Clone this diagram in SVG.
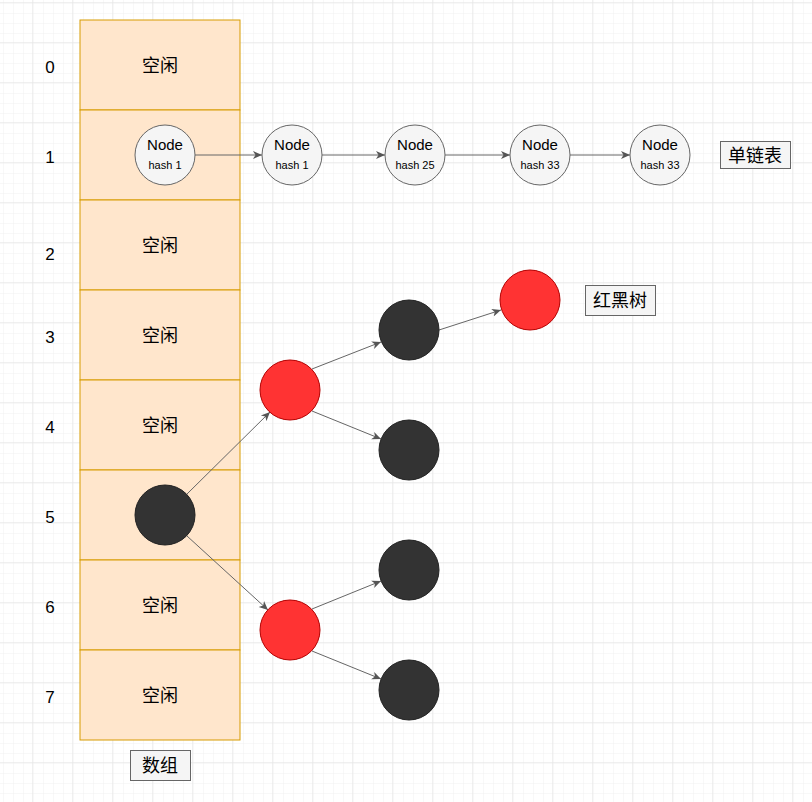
<svg xmlns="http://www.w3.org/2000/svg" width="812" height="802" viewBox="0 0 812 802">
<defs>
<pattern id="minor" width="10" height="10" patternUnits="userSpaceOnUse" x="2" y="2"><path d="M10 0V10M0 10H10" fill="none" stroke="#f0f0f0" stroke-width="1"/></pattern>
<pattern id="major" width="40" height="40" patternUnits="userSpaceOnUse" x="32" y="2"><rect width="40" height="40" fill="url(#minor)"/><path d="M0 0V40M0 0H40" fill="none" stroke="#e2e2e2" stroke-width="1"/></pattern>
<marker id="arr" markerWidth="10" markerHeight="10" refX="9" refY="5" orient="auto" markerUnits="userSpaceOnUse"><path d="M0 1L9 5L0 9L2.5 5Z" fill="#555"/></marker>
<style>
.cell{fill:#ffe6cc;stroke:#d79b00;stroke-width:1}
.t{font-family:"Liberation Sans","Noto Sans CJK SC",sans-serif;fill:#000;text-anchor:middle}
.cn{font-size:18px}
.idx{font-size:17px}
.ln{fill:#f5f5f5;stroke:#666}
.blk{fill:#333;stroke:#222}
.red{fill:#ff3333;stroke:#b20000}
.lbl{fill:#f5f5f5;stroke:#666}
.c{stroke:#666;fill:none;marker-end:url(#arr)}
</style>
</defs>
<rect width="812" height="802" fill="#fff"/>
<rect width="812" height="802" fill="url(#major)"/>
<g id="array">
<rect class="cell" x="80" y="20" width="160" height="90"/>
<rect class="cell" x="80" y="110" width="160" height="90"/>
<rect class="cell" x="80" y="200" width="160" height="90"/>
<rect class="cell" x="80" y="290" width="160" height="90"/>
<rect class="cell" x="80" y="380" width="160" height="90"/>
<rect class="cell" x="80" y="470" width="160" height="90"/>
<rect class="cell" x="80" y="560" width="160" height="90"/>
<rect class="cell" x="80" y="650" width="160" height="90"/>
<text class="t cn" x="160" y="72">空闲</text>
<text class="t cn" x="160" y="252">空闲</text>
<text class="t cn" x="160" y="342">空闲</text>
<text class="t cn" x="160" y="432">空闲</text>
<text class="t cn" x="160" y="612">空闲</text>
<text class="t cn" x="160" y="702">空闲</text>
</g>
<g id="indices">
<text class="t idx" x="50" y="73">0</text>
<text class="t idx" x="50" y="163">1</text>
<text class="t idx" x="50" y="260">2</text>
<text class="t idx" x="50" y="343">3</text>
<text class="t idx" x="50" y="433">4</text>
<text class="t idx" x="50" y="523">5</text>
<text class="t idx" x="50" y="613">6</text>
<text class="t idx" x="50" y="703">7</text>
</g>
<g id="connectors">
<line class="c" x1="195" y1="155" x2="262" y2="155"/>
<line class="c" x1="322" y1="155" x2="385" y2="155"/>
<line class="c" x1="445" y1="155" x2="510" y2="155"/>
<line class="c" x1="570" y1="155" x2="630" y2="155"/>
<line class="c" x1="187" y1="494" x2="270" y2="412"/>
<line class="c" x1="187" y1="536" x2="268" y2="610"/>
<line class="c" x1="312" y1="369" x2="381" y2="342"/>
<line class="c" x1="312" y1="411" x2="381" y2="439"/>
<line class="c" x1="312" y1="609" x2="381" y2="581"/>
<line class="c" x1="312" y1="651" x2="381" y2="679"/>
<line class="c" x1="439" y1="330" x2="501" y2="310"/>
</g>
<g id="list">
<g id="n1"><circle class="ln" cx="165" cy="155" r="30"/><text class="t" x="165" y="150" font-size="15">Node</text><text class="t" x="165" y="169" font-size="11" fill="#333">hash 1</text></g>
<g id="n2"><circle class="ln" cx="292" cy="155" r="30"/><text class="t" x="292" y="150" font-size="15">Node</text><text class="t" x="292" y="169" font-size="11" fill="#333">hash 1</text></g>
<g id="n3"><circle class="ln" cx="415" cy="155" r="30"/><text class="t" x="415" y="150" font-size="15">Node</text><text class="t" x="415" y="169" font-size="11" fill="#333">hash 25</text></g>
<g id="n4"><circle class="ln" cx="540" cy="155" r="30"/><text class="t" x="540" y="150" font-size="15">Node</text><text class="t" x="540" y="169" font-size="11" fill="#333">hash 33</text></g>
<g id="n5"><circle class="ln" cx="660" cy="155" r="30"/><text class="t" x="660" y="150" font-size="15">Node</text><text class="t" x="660" y="169" font-size="11" fill="#333">hash 33</text></g>
</g>
<g id="tree">
<circle id="root" class="blk" cx="165" cy="515" r="30"/>
<circle id="r1" class="red" cx="290" cy="390" r="30"/>
<circle id="r2" class="red" cx="290" cy="630" r="30"/>
<circle id="b1" class="blk" cx="409" cy="330" r="30"/>
<circle id="b2" class="blk" cx="409" cy="450" r="30"/>
<circle id="b3" class="blk" cx="409" cy="570" r="30"/>
<circle id="b4" class="blk" cx="409" cy="690" r="30"/>
<circle id="r3" class="red" cx="530" cy="300" r="30"/>
</g>
<g id="label-list"><rect class="lbl" x="720.5" y="141.5" width="70" height="27"/><text class="t cn" x="755" y="162">单链表</text></g>
<g id="label-tree"><rect class="lbl" x="585.5" y="285.5" width="70" height="30"/><text class="t cn" x="620" y="307">红黑树</text></g>
<g id="label-array"><rect class="lbl" x="130.5" y="750.5" width="60" height="30"/><text class="t cn" x="160" y="772">数组</text></g>
</svg>
